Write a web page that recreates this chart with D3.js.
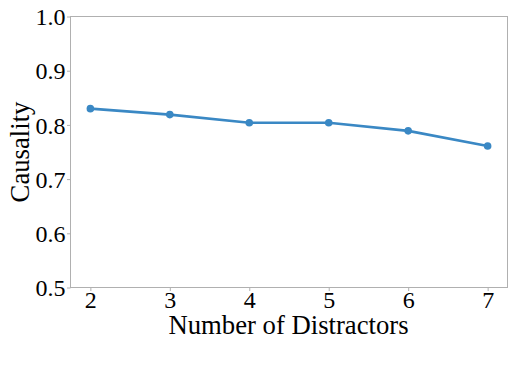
<!DOCTYPE html>
<html><head><meta charset="utf-8">
<script src="https://cdn.jsdelivr.net/npm/d3@7"></script>
<style>body{margin:0;background:#fff}svg{display:block}
svg text{font-family:"Liberation Serif","Times New Roman",serif}</style>
</head><body>
<svg id="chart" width="518" height="365"></svg>
<script>
const distractors = [2, 3, 4, 5, 6, 7];
const causality = [0.830, 0.819, 0.804, 0.804, 0.789, 0.761];
const yTicks = [0.5, 0.6, 0.7, 0.8, 0.9, 1.0];
const xLabel = "Number of Distractors";
const yLabel = "Causality";

const svg = d3.select("#chart");
const mLeft = 70.5, mRight = 507.5, mTop = 16.5, mBottom = 287.5;
const serif = "Liberation Serif, Times New Roman, serif";
const axisColor = "#b0b0b0";
const lineColor = "#3a88c4";

const x = d3.scaleLinear().domain([1.75, 7.25]).range([mLeft, mRight]);
const y = d3.scaleLinear().domain([0.5, 1.0]).range([mBottom, mTop]);

// frame
svg.append("rect").attr("x", mLeft).attr("y", mTop)
  .attr("width", mRight - mLeft).attr("height", mBottom - mTop)
  .attr("fill", "none").attr("stroke", axisColor).attr("stroke-width", 1);

const xAxis = svg.append("g").attr("transform", `translate(0,${mBottom})`)
  .call(d3.axisBottom(x).tickValues(distractors).tickSize(3.5).tickPadding(0).tickFormat(d3.format("d")));
const yAxis = svg.append("g").attr("transform", `translate(${mLeft},0)`)
  .call(d3.axisLeft(y).tickValues(yTicks).tickSize(3.5).tickPadding(1.5).tickFormat(d3.format(".1f")));
[xAxis, yAxis].forEach(g => {
  g.attr("font-family", serif).attr("font-size", 24);
  g.select(".domain").remove();
  g.selectAll(".tick line").attr("stroke", axisColor);
  g.selectAll(".tick text").attr("fill", "#000")
    .style("font-family", "'Liberation Serif','Times New Roman',serif").style("font-size", "24px");
});
yAxis.selectAll(".tick text").attr("dy", "0.34em");

const line = d3.line().x((d, i) => x(distractors[i])).y(d => y(d));
svg.append("path").datum(causality).attr("d", line)
  .attr("fill", "none").attr("stroke", lineColor).attr("stroke-width", 2.6)
  .attr("stroke-linejoin", "round");
svg.selectAll("circle.pt").data(causality).enter().append("circle")
  .attr("class", "pt").attr("cx", (d, i) => x(distractors[i])).attr("cy", d => y(d))
  .attr("r", 3.8).attr("fill", lineColor);

svg.append("text").attr("x", 288.5).attr("y", 333.5)
  .attr("text-anchor", "middle").attr("font-size", 26.7)
  .text(xLabel);
svg.append("text").attr("transform", `translate(28.5,${(mTop + mBottom) / 2}) rotate(-90)`)
  .attr("text-anchor", "middle").attr("font-size", 26.7)
  .text(yLabel);
</script>
</body></html>
